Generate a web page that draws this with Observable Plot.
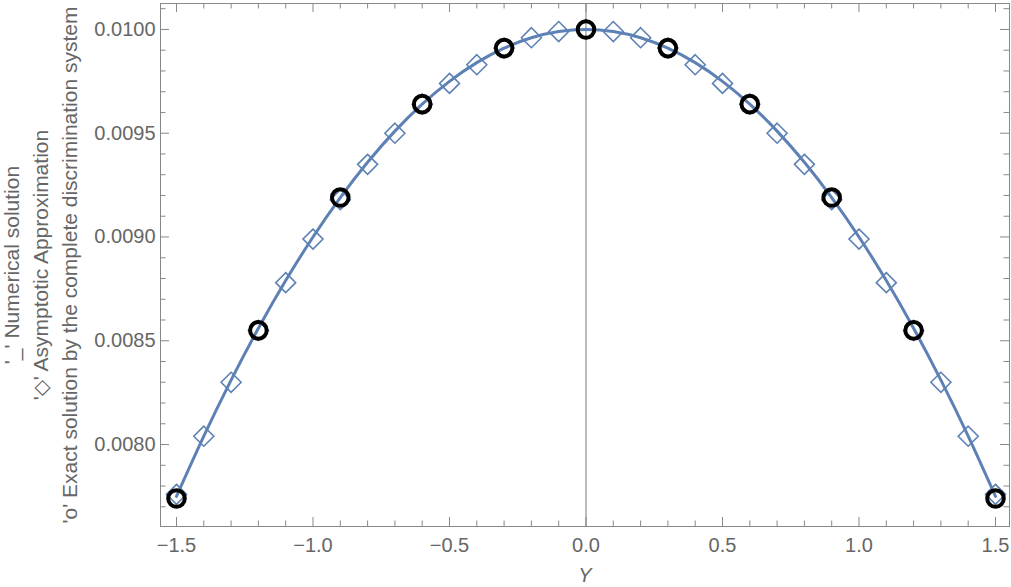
<!DOCTYPE html>
<html>
<head>
<meta charset="utf-8">
<script src="https://cdn.jsdelivr.net/npm/d3@7"></script>
<script src="https://cdn.jsdelivr.net/npm/@observablehq/plot@0.6"></script>
<style>
  body { margin: 0; background: #fff; }
  #chart svg { display: block; }
</style>
</head>
<body>
<div id="chart"></div>
<script>
// ---- data ----
const yGrid = [-1.5,-1.4,-1.3,-1.2,-1.1,-1.0,-0.9,-0.8,-0.7,-0.6,-0.5,-0.4,-0.3,-0.2,-0.1,0,
               0.1,0.2,0.3,0.4,0.5,0.6,0.7,0.8,0.9,1.0,1.1,1.2,1.3,1.4,1.5];
const numerical = [0.00775,0.00804,0.00831,0.00856,0.00879,0.00900,0.00919,0.00936,0.00951,0.00964,0.00975,0.00984,0.00991,0.00996,0.00999,0.01000,
                   0.00999,0.00996,0.00991,0.00984,0.00975,0.00964,0.00951,0.00936,0.00919,0.00900,0.00879,0.00856,0.00831,0.00804,0.00775];
const asymptotic = [0.00776,0.00804,0.00830,0.00855,0.00878,0.00899,0.00918,0.00935,0.00950,0.00964,0.00974,0.00983,0.00991,0.00996,0.00999,0.01000,
                    0.00999,0.00996,0.00991,0.00983,0.00974,0.00964,0.00950,0.00935,0.00918,0.00899,0.00878,0.00855,0.00830,0.00804,0.00776];
const exactY = [-1.5,-1.2,-0.9,-0.6,-0.3,0,0.3,0.6,0.9,1.2,1.5];
const exact  = [0.00774,0.00855,0.00919,0.00964,0.00991,0.01000,0.00991,0.00964,0.00919,0.00855,0.00774];

const xMajor = [-1.5,-1.0,-0.5,0,0.5,1.0,1.5];
const xMinor = [-1.4,-1.3,-1.2,-1.1,-0.9,-0.8,-0.7,-0.6,-0.4,-0.3,-0.2,-0.1,
                0.1,0.2,0.3,0.4,0.6,0.7,0.8,0.9,1.1,1.2,1.3,1.4];
const yMajor = [0.0080,0.0085,0.0090,0.0095,0.0100];
const yMinor = [0.0077,0.0078,0.0079,0.0081,0.0082,0.0083,0.0084,0.0086,0.0087,0.0088,0.0089,
                0.0091,0.0092,0.0093,0.0094,0.0096,0.0097,0.0098,0.0099,0.0101];

const xLabel = "Y";
const yLabels = [
  "'_' Numerical solution",
  "'\u25C7' Asymptotic Approximation",
  "'o' Exact solution by the complete discrimination system"
];

// ---- tables ----
const lineData  = yGrid.map((x, i) => ({x, y: numerical[i]}));
const asymData  = yGrid.map((x, i) => ({x, y: asymptotic[i]}));
const exactData = exactY.map((x, i) => ({x, y: exact[i]}));

const W = 1011, H = 587;
const mL = 160, mR = 2, mT = 3, mB = 61;
const innerW = W - mL - mR, innerH = H - mT - mB;
const majorLen = 9, minorLen = 5.5;
const frameColor = "#888";
const textColor = "#666";
const blue = "#5E81B5";

const chart = Plot.plot({
  width: W,
  height: H,
  marginLeft: mL, marginRight: mR, marginTop: mT, marginBottom: mB,
  style: {fontFamily: "'Liberation Sans', Arial, sans-serif", fontSize: "20px", color: textColor, background: "#fff"},
  x: {domain: [-1.5586, 1.5513]},
  y: {domain: [0.007605, 0.010125]},
  marks: [
    Plot.frame({stroke: frameColor, strokeWidth: 1}),
    Plot.ruleX([0], {stroke: "#777", strokeWidth: 1}),
    // inward ticks: bottom / top
    Plot.tickX(xMajor, {x: d => d, insetTop: innerH - majorLen, stroke: frameColor}),
    Plot.tickX(xMinor, {x: d => d, insetTop: innerH - minorLen, stroke: frameColor}),
    Plot.tickX(xMajor, {x: d => d, insetBottom: innerH - majorLen, stroke: frameColor}),
    Plot.tickX(xMinor, {x: d => d, insetBottom: innerH - minorLen, stroke: frameColor}),
    // inward ticks: left / right
    Plot.tickY(yMajor, {y: d => d, insetRight: innerW - majorLen, stroke: frameColor}),
    Plot.tickY(yMinor, {y: d => d, insetRight: innerW - minorLen, stroke: frameColor}),
    Plot.tickY(yMajor, {y: d => d, insetLeft: innerW - majorLen, stroke: frameColor}),
    Plot.tickY(yMinor, {y: d => d, insetLeft: innerW - minorLen, stroke: frameColor}),
    // tick labels
    Plot.axisX({ticks: xMajor, tickSize: 0, tickPadding: 11, tickFormat: d3.format(".1f"), label: null, fontSize: 20}),
    Plot.axisY({ticks: yMajor, tickSize: 0, tickPadding: 5, tickFormat: d3.format(".4f"), label: null, fontSize: 20}),
    // axis titles
    Plot.text([xLabel], {frameAnchor: "bottom", dy: 55, lineAnchor: "bottom", fontSize: 20, fontStyle: "italic", fill: textColor}),
    Plot.text([yLabels[0]], {frameAnchor: "left", rotate: -90, dx: 18 - mL, textAnchor: "middle", lineAnchor: "bottom", fontSize: 21, fill: textColor}),
    Plot.text([yLabels[1]], {frameAnchor: "left", rotate: -90, dx: 47 - mL, textAnchor: "middle", lineAnchor: "bottom", fontSize: 21, fill: textColor}),
    Plot.text([yLabels[2]], {frameAnchor: "left", rotate: -90, dx: 76 - mL, textAnchor: "middle", lineAnchor: "bottom", fontSize: 21, fill: textColor}),
    // data
    Plot.line(lineData, {x: "x", y: "y", stroke: blue, strokeWidth: 3, curve: "natural"}),
    Plot.dot(asymData, {x: "x", y: "y", symbol: "diamond2", r: 9, stroke: blue, strokeWidth: 1.6, fill: "none"}),
    Plot.dot(exactData, {x: "x", y: "y", r: 8.3, stroke: "black", strokeWidth: 4, fill: "none"})
  ]
});
document.getElementById("chart").appendChild(chart);
</script>
</body>
</html>
